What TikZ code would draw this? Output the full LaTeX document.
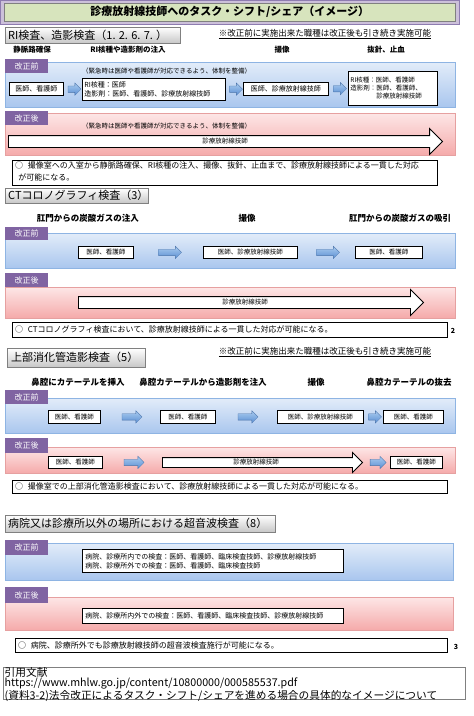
\documentclass[tikz,border=0pt]{standalone}
\usepackage{fontspec}
\setmainfont{Noto Sans CJK JP}
\usetikzlibrary{shapes.arrows,calc}
\definecolor{lav}{HTML}{CCC0DA}
\definecolor{lavd}{HTML}{8E7CB0}
\definecolor{titg}{HTML}{D7E4BD}
\definecolor{tabp}{HTML}{8064A2}
\definecolor{bluet}{HTML}{E2ECF9}
\definecolor{blueb}{HTML}{A9C6EE}
\definecolor{bluel}{HTML}{8EB4E3}
\definecolor{pinkt}{HTML}{FDE6E6}
\definecolor{pinkb}{HTML}{F5AAAA}
\definecolor{pinkl}{HTML}{E6A0A0}
\definecolor{arrt}{HTML}{A9CBEF}
\definecolor{arrb}{HTML}{5B8FD3}
\tikzset{
  fs/.style={font=\fontsize{#1}{#1}\selectfont},
  hdr/.style={draw=gray, top color=white, bottom color=black!22, anchor=north west, inner sep=0pt},
  hdrtext/.style={anchor=west, font=\fontsize{11}{12}\selectfont, inner sep=0pt},
  band/.style={anchor=north west, inner sep=0pt},
  bluebd/.style={band, draw=bluel, line width=0.5pt, top color=bluet, bottom color=blueb},
  pinkbd/.style={band, draw=pinkl, line width=0.5pt, top color=pinkt, bottom color=pinkb},
  tab/.style={anchor=north west, fill=tabp, text=white, font=\fontsize{8}{9}\selectfont, minimum width=43pt, inner sep=0pt},
  boxn/.style={anchor=north west, draw=black, line width=0.9pt, fill=white, inner sep=0pt, font=\fontsize{7}{9}\selectfont},
  steplbl/.style={font=\bfseries\fontsize{7.5}{8}\selectfont, inner sep=0pt},
  notes/.style={font=\fontsize{6.5}{7}\selectfont, anchor=west, inner sep=0pt},
  blk/.style={single arrow, draw=arrb!80!black, line width=0.3pt, top color=arrt, bottom color=arrb, inner sep=0pt, inner ysep=3pt, single arrow head extend=3pt, anchor=center},
  bigarr/.style={single arrow, draw=black, line width=0.9pt, fill=white, inner xsep=0pt, inner ysep=#1, anchor=west},
  summ/.style={anchor=north west, draw=black, line width=0.9pt, fill=white, inner sep=0pt, font=\fontsize{8}{11}\selectfont},
  under/.style={font=\fontsize{8.5}{9}\selectfont, inner sep=0pt}
}
\begin{document}
\begin{tikzpicture}[x=1pt,y=-1pt]
\useasboundingbox[fill=white] (0,0) rectangle (474,716);
% title
\node[anchor=north west, fill=lav, draw=lavd, line width=0.5pt, minimum width=459pt, minimum height=24pt, inner sep=0pt] (frame) at (0,0) {};
\node[anchor=north west, fill=titg, draw=gray, line width=0.5pt, minimum width=451pt, minimum height=18pt, inner sep=0pt, font=\bfseries\fontsize{11}{12}\selectfont] (title) at (4,3) {診療放射線技師へのタスク・シフト/シェア（イメージ）};

% ===== Section 1 =====
\node[hdr, minimum width=175pt, minimum height=16pt] (h1) at (5,27) {};
\node[hdrtext] (h1t) at (8,35) {RI検査、造影検査（1. 2. 6. 7. ）};
\node[under] (u1) at (325,34) {\underline{※改正前に実施出来た職種は改正後も引き続き実施可能}};
\node[steplbl] (l11) at (32,50) {静脈路確保};
\node[steplbl] (l12) at (128,50) {RI核種や造影剤の注入};
\node[steplbl] (l13) at (282,50) {撮像};
\node[steplbl] (l14) at (386,50) {抜針、止血};

\node[bluebd, minimum width=450pt, minimum height=45pt] (b1) at (5,62) {};
\node[tab, minimum height=14pt] (t1) at (5,59) {改正前};
\node[notes] (n1) at (82,71) {（緊急時は医師や看護師が対応できるよう、体制を整備）};
\node[boxn, minimum width=54pt, minimum height=13pt] (s1a) at (9,82) {医師、看護師};
\node[boxn, minimum width=143pt, minimum height=22pt, align=left, text width=139pt, inner xsep=2pt] (s1b) at (82,78) {RI核種：医師\\造影剤：医師、看護師、診療放射線技師};
\node[boxn, minimum width=85pt, minimum height=13pt] (s1c) at (243,82) {医師、診療放射線技師};
\node[boxn, minimum width=89pt, minimum height=34pt, align=left, text width=85pt, inner xsep=2pt, font=\fontsize{6.5}{8}\selectfont] (s1d) at (348,71) {RI核種：医師、看護師\\造影剤：医師、看護師、\\\phantom{造影剤：}診療放射線技師};
\node[blk, minimum height=13pt] (a11) at ($(s1a.east)!0.5!(s1b.west)$) {};
\node[blk, minimum height=13pt] (a12) at ($(s1b.east)!0.5!(s1c.west)$) {};
\node[blk, minimum height=13pt] (a13) at ($(s1c.east)!0.5!(s1d.west)$) {};

\node[pinkbd, minimum width=450pt, minimum height=42pt] (b2) at (5,113) {};
\node[tab, minimum height=14pt] (t2) at (5,111) {改正後};
\node[notes] (n2) at (82,126) {（緊急時は医師や看護師が対応できるよう、体制を整備）};
\node[bigarr=5.5pt, single arrow head extend=7pt, minimum height=434pt] (ba1) at (8,141.5) {};
\node[fs=6.5, inner sep=0pt] (ba1t) at (225,141.5) {診療放射線技師};
\node[summ, minimum width=425pt, minimum height=25pt] (sum1) at (12,160) {};
\node[anchor=north west, inner sep=0pt, align=left, font=\fontsize{8}{11.5}\selectfont] (sum1t) at (15,162) {○\hspace{0.6em}撮像室への入室から静脈路確保、RI核種の注入、撮像、抜針、止血まで、診療放射線技師による一貫した対応\\\hspace{0.4em}が可能になる。};

% ===== Section 2 =====
\node[hdr, minimum width=143pt, minimum height=15pt] (h2) at (5,188) {};
\node[hdrtext] (h2t) at (8,195.5) {CTコロノグラフィ検査（3）};
\node[steplbl, fs=8.5] (l21) at (88,218) {\bfseries 肛門からの炭酸ガスの注入};
\node[steplbl, fs=8.5] (l22) at (247,218) {\bfseries 撮像};
\node[steplbl, fs=8.5] (l23) at (400,218) {\bfseries 肛門からの炭酸ガスの吸引};

\node[bluebd, minimum width=450pt, minimum height=35pt] (b3) at (5,233) {};
\node[tab, minimum height=13pt] (t3) at (5,227) {改正前};
\node[boxn, minimum width=55pt, minimum height=12pt, fs=6.5] (s2a) at (78,246) {医師、看護師};
\node[boxn, minimum width=94pt, minimum height=12pt, fs=6.5] (s2b) at (203,246) {医師、診療放射線技師};
\node[boxn, minimum width=67pt, minimum height=12pt, fs=6.5] (s2c) at (355,246) {医師、看護師};
\node[blk, minimum height=23pt] (a21) at ($(s2a.east)!0.5!(s2b.west)$) {};
\node[blk, minimum height=23pt] (a22) at ($(s2b.east)!0.5!(s2c.west)$) {};

\node[pinkbd, minimum width=450pt, minimum height=31pt] (b4) at (5,287) {};
\node[tab, minimum height=14pt] (t4) at (5,273) {改正後};
\node[bigarr=5.5pt, single arrow head extend=7pt, minimum height=345pt] (ba2) at (78,302.5) {};
\node[fs=6.5, inner sep=0pt] (ba2t) at (245,302.5) {診療放射線技師};
\node[summ, minimum width=435pt, minimum height=15pt] (sum2) at (12,322) {};
\node[anchor=west, inner sep=0pt, fs=8] (sum2t) at (15,329.5) {○\hspace{0.6em}CTコロノグラフィ検査において、診療放射線技師による一貫した対応が可能になる。};
\node[fs=7, inner sep=0pt] (p2) at (453,331) {\bfseries 2};

% ===== Section 3 =====
\node[hdr, minimum width=138pt, minimum height=19pt] (h3) at (7,348) {};
\node[hdrtext] (h3t) at (11,357.5) {上部消化管造影検査（5）};
\node[under] (u3) at (325,352) {\underline{※改正前に実施出来た職種は改正後も引き続き実施可能}};
\node[steplbl, fs=8.5] (l31) at (78,382) {\bfseries 鼻腔にカテーテルを挿入};
\node[steplbl, fs=8.5] (l32) at (203,382) {\bfseries 鼻腔カテーテルから造影剤を注入};
\node[steplbl, fs=8.5] (l33) at (316,382) {\bfseries 撮像};
\node[steplbl, fs=8.5] (l34) at (409,382) {\bfseries 鼻腔カテーテルの抜去};

\node[bluebd, minimum width=450pt, minimum height=35pt] (b5) at (5,398) {};
\node[tab, minimum height=14pt] (t5) at (5,390) {改正前};
\node[boxn, minimum width=52pt, minimum height=13pt, fs=6.5] (s3a) at (48,410) {医師、看護師};
\node[boxn, minimum width=55pt, minimum height=13pt, fs=6.5] (s3b) at (160,410) {医師、看護師};
\node[boxn, minimum width=86pt, minimum height=13pt, fs=6.5] (s3c) at (277,410) {医師、診療放射線技師};
\node[boxn, minimum width=60pt, minimum height=13pt, fs=6.5] (s3d) at (383,410) {医師、看護師};
\node[blk, minimum height=20pt] (a31) at ($(s3a.east)!0.5!(s3b.west)$) {};
\node[blk, minimum height=20pt] (a32) at ($(s3b.east)!0.5!(s3c.west)$) {};
\node[blk, minimum height=13pt] (a33) at ($(s3c.east)!0.5!(s3d.west)$) {};

\node[pinkbd, minimum width=450pt, minimum height=26pt] (b6) at (5,447) {};
\node[tab, minimum height=15pt] (t6) at (5,438) {改正後};
\node[boxn, minimum width=54pt, minimum height=12pt, fs=6.5] (s4a) at (48,456) {医師、看護師};
\node[bigarr=4.5pt, single arrow head extend=5pt, minimum height=200pt] (ba3) at (162,462.5) {};
\node[fs=6.5, inner sep=0pt] (ba3t) at (256,462.5) {診療放射線技師};
\node[boxn, minimum width=52pt, minimum height=12pt, fs=6.5] (s4b) at (390,456) {医師、看護師};
\node[blk, minimum height=20pt] (a41) at ($(s4a.east)!0.5!(ba3.west)$) {};
\node[blk, minimum height=16pt] (a42) at ($(ba3.east)!0.5!(s4b.west)$) {};
\node[summ, minimum width=435pt, minimum height=13pt] (sum3) at (12,480) {};
\node[anchor=west, inner sep=0pt, fs=8] (sum3t) at (15,486.5) {○\hspace{0.6em}撮像室での上部消化管造影検査において、診療放射線技師による一貫した対応が可能になる。};

% ===== Section 4 =====
\node[hdr, minimum width=270pt, minimum height=17pt] (h4) at (5,515) {};
\node[hdrtext] (h4t) at (8,523.5) {病院又は診療所以外の場所における超音波検査（8）};
\node[bluebd, minimum width=448pt, minimum height=37pt] (b7) at (5,543) {};
\node[tab, minimum height=15pt] (t7) at (5,540) {改正前};
\node[boxn, minimum width=261pt, minimum height=23pt, align=left, text width=255pt, inner xsep=3pt, font=\fontsize{7}{9}\selectfont] (s5a) at (82,549) {病院、診療所内での検査：医師、看護師、臨床検査技師、診療放射線技師\\病院、診療所外での検査：医師、看護師、臨床検査技師};
\node[pinkbd, minimum width=448pt, minimum height=33pt] (b8) at (5,597) {};
\node[tab, minimum height=16pt] (t8) at (5,587) {改正後};
\node[boxn, minimum width=261pt, minimum height=15pt, align=left, text width=255pt, inner xsep=3pt, fs=7] (s5b) at (82,608) {病院、診療所内外での検査：医師、看護師、臨床検査技師、診療放射線技師};
\node[summ, minimum width=432pt, minimum height=14pt] (sum4) at (15,638) {};
\node[anchor=west, inner sep=0pt, fs=8] (sum4t) at (18,645) {○\hspace{0.6em}病院、診療所外でも診療放射線技師の超音波検査施行が可能になる。};
\node[fs=7, inner sep=0pt] (p3) at (456,647) {\bfseries 3};

% ===== reference =====
\node[anchor=north west, draw=gray, line width=0.6pt, minimum width=462pt, minimum height=32pt, inner sep=0pt] (refbox) at (3,667) {};
\node[anchor=north west, inner sep=0pt, align=left, font=\fontsize{10.7}{9.8}\selectfont] (reft) at (4.5,667.5) {引用文献\\https://www.mhlw.go.jp/content/10800000/000585537.pdf\\(資料3-2)法令改正によるタスク・シフト/シェアを進める場合の具体的なイメージについて};
\end{tikzpicture}
\end{document}
